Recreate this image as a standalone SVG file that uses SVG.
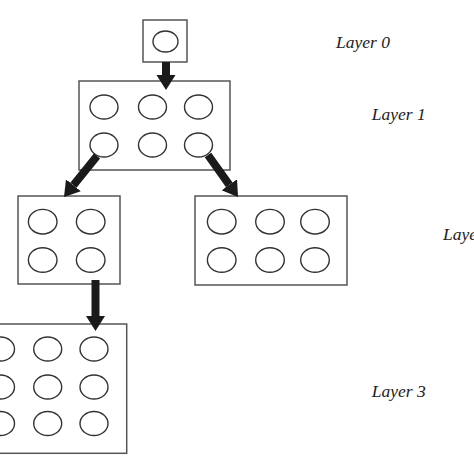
<svg xmlns="http://www.w3.org/2000/svg" width="474" height="474" viewBox="0 0 474 474">
<defs>
<style>
.box{fill:#fff;stroke:#555;stroke-width:1.5}
.n{fill:none;stroke:#333;stroke-width:1.4}
.arr{stroke:#1a1a1a;stroke-width:8;fill:none}
.lbl{font-family:"Liberation Serif",serif;font-style:italic;font-size:17.5px;fill:#222}
</style>
<marker id="ah" markerUnits="userSpaceOnUse" markerWidth="16" markerHeight="20" viewBox="0 -10 16 20" refX="0" refY="0" orient="auto">
<path d="M0,-9.5 L15,0 L0,9.5 z" fill="#1a1a1a"/>
</marker>
</defs>
<rect width="474" height="474" fill="#fff"/>
<g id="layer0">
<rect class="box" x="143" y="20" width="44" height="42"/>
<ellipse class="n" cx="165.5" cy="41.5" rx="12.5" ry="10.5"/>
</g>
<g id="layer1">
<rect class="box" x="79" y="81" width="151" height="89"/>
<ellipse class="n" cx="104" cy="107" rx="14" ry="12"/>
<ellipse class="n" cx="152.5" cy="107" rx="14" ry="12"/>
<ellipse class="n" cx="198.5" cy="107" rx="14" ry="12"/>
<ellipse class="n" cx="104" cy="145" rx="14" ry="12"/>
<ellipse class="n" cx="152.5" cy="145" rx="14" ry="12"/>
<ellipse class="n" cx="198.5" cy="145" rx="14" ry="12"/>
</g>
<g id="layer2a">
<rect class="box" x="18" y="196" width="102" height="88"/>
<ellipse class="n" cx="42.7" cy="221.7" rx="14.3" ry="12.3"/>
<ellipse class="n" cx="90.7" cy="221.7" rx="14.3" ry="12.3"/>
<ellipse class="n" cx="42.7" cy="260" rx="14.3" ry="12.3"/>
<ellipse class="n" cx="90.7" cy="260" rx="14.3" ry="12.3"/>
</g>
<g id="layer2b">
<rect class="box" x="195" y="196" width="152" height="89"/>
<ellipse class="n" cx="221.7" cy="221.7" rx="14.3" ry="12.3"/>
<ellipse class="n" cx="270" cy="221.7" rx="14.3" ry="12.3"/>
<ellipse class="n" cx="315" cy="221.7" rx="14.3" ry="12.3"/>
<ellipse class="n" cx="221.7" cy="260" rx="14.3" ry="12.3"/>
<ellipse class="n" cx="270" cy="260" rx="14.3" ry="12.3"/>
<ellipse class="n" cx="315" cy="260" rx="14.3" ry="12.3"/>
</g>
<g id="layer3">
<rect class="box" x="-30" y="324" width="156.7" height="129.3"/>
<ellipse class="n" cx="0.5" cy="349" rx="14" ry="12"/>
<ellipse class="n" cx="47.7" cy="349" rx="14" ry="12"/>
<ellipse class="n" cx="94" cy="349" rx="14" ry="12"/>
<ellipse class="n" cx="0.5" cy="387" rx="14" ry="12"/>
<ellipse class="n" cx="47.7" cy="387" rx="14" ry="12"/>
<ellipse class="n" cx="94" cy="387" rx="14" ry="12"/>
<ellipse class="n" cx="0.5" cy="423.5" rx="14" ry="12"/>
<ellipse class="n" cx="47.7" cy="423.5" rx="14" ry="12"/>
<ellipse class="n" cx="94" cy="423.5" rx="14" ry="12"/>
</g>
<g id="connectors">
<line class="arr" x1="166" y1="62" x2="166" y2="75" marker-end="url(#ah)"/>
<line class="arr" x1="97" y1="156" x2="73.4" y2="185.3" marker-end="url(#ah)"/>
<line class="arr" x1="208" y1="155" x2="229.3" y2="184.8" marker-end="url(#ah)"/>
<line class="arr" x1="95.5" y1="280" x2="95.5" y2="316" marker-end="url(#ah)"/>
</g>
<g id="labels">
<text class="lbl" x="336" y="48">Layer 0</text>
<text class="lbl" x="371.7" y="120">Layer 1</text>
<text class="lbl" x="443" y="240">Layer 2</text>
<text class="lbl" x="371.7" y="397">Layer 3</text>
</g>
</svg>
